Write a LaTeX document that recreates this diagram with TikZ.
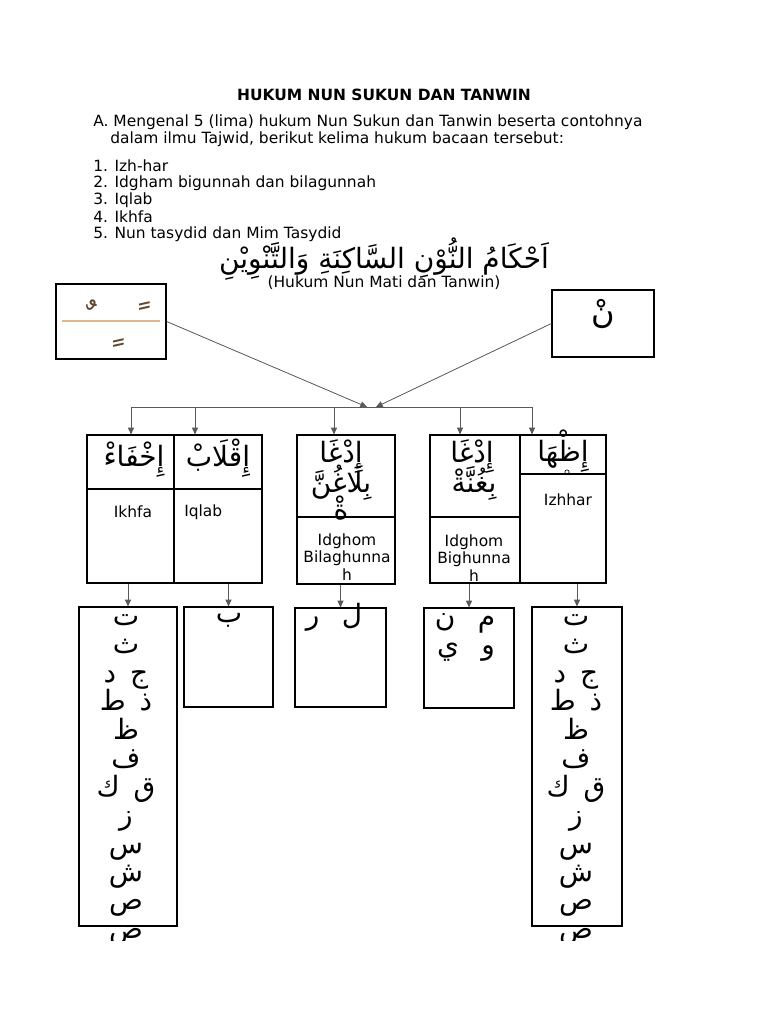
\documentclass[tikz,border=0pt]{standalone}
\usepackage{fontspec}
\setmainfont{DejaVu Sans}
\newfontfamily\arabicfont[Script=Arabic]{DejaVu Sans}
\TeXXeTstate=1
\usetikzlibrary{arrows.meta, fit}
\newcommand{\arab}[1]{{\arabicfont\beginR #1\endR}}
\definecolor{tanline}{RGB}{222,184,140}
\definecolor{tanmark}{RGB}{95,70,45}

\begin{document}
\begin{tikzpicture}[x=0.75pt, y=-0.75pt, inner sep=0pt, font=\fontsize{11.6}{13.1}\selectfont]
  \tikzstyle{box} = [draw, line width=0.9pt, inner sep=0pt]
  \tikzstyle{link} = [line width=0.6pt, black!65]
  \tikzstyle{arr} = [link, -{Triangle[length=5pt, width=4.5pt]}]
  \tikzstyle{head} = [anchor=base, font=\fontsize{21}{24}\selectfont]
  \tikzstyle{huruf} = [anchor=base, font=\fontsize{21}{24}\selectfont]
  \tikzstyle{tanda} = [text=tanmark, font=\fontsize{28}{30}\selectfont]
  \useasboundingbox[fill=white] (0,0) rectangle (768,1024);

  % judul dan keterangan
  \node[font=\fontsize{11.6}{13.1}\bfseries] (judul) at (384,95) {HUKUM NUN SUKUN DAN TANWIN};
  \node[anchor=west] (intro1) at (93,122) {A. Mengenal 5 (lima) hukum Nun Sukun dan Tanwin beserta contohnya};
  \node[anchor=west] (intro2) at (110,139) {dalam ilmu Tajwid, berikut kelima hukum bacaan tersebut:};
  \foreach \t [count=\i] in {Izh-har, Idgham bigunnah dan bilagunnah, Iqlab, Ikhfa, Nun tasydid dan Mim Tasydid}
    \node[anchor=west] (daftar\i) at (93,149+17*\i) {\i. \t};
  \node[font=\fontsize{21}{24}\selectfont] (arjudul) at (384,259) {\arab{اَحْكَامُ النُّوْنِ السَّاكِنَةِ وَالتَّنْوِيْنِ}};
  \node (subjudul) at (384,283) {(Hukum Nun Mati dan Tanwin)};

  % tanwin dan nun mati
  \node[box, fit={(56,284) (166,359)}] (tanwin) {};
  \node[box, fit={(552,290) (654,357)}] (nunmati) {};
  \draw[tanline, line width=0.8pt] (62,321) -- (160,321);
  \node[tanda] (dammatain) at (82,316) {\arab{ٌ}};
  \node[tanda] (fathatain) at (135,317) {\arab{ً}};
  \node[tanda] (kasratain) at (109,343) {\arab{ٍ}};
  \node[font=\fontsize{24}{26}\selectfont] (nun) at (603,314) {\arab{نْ}};

  % kotak hukum
  \node[box, fit={(87,435) (174,583)}] (ikhfa) {};
  \node[box, fit={(87,435) (174,489)}] (ikhfakepala) {};
  \node[box, fit={(174,435) (262,583)}] (iqlab) {};
  \node[box, fit={(174,435) (262,489)}] (iqlabkepala) {};
  \node[box, fit={(297,435) (395,584)}] (bilaghunnah) {};
  \node[box, fit={(297,435) (395,517)}] (bilakepala) {};
  \node[box, fit={(430,435) (520,583)}] (bighunnah) {};
  \node[box, fit={(430,435) (520,517)}] (bikepala) {};
  \node[box, fit={(520,435) (606,583)}] (izhhar) {};
  \node[box, fit={(520,435) (606,474)}] (izhharkepala) {};

  \node[head] (arikhfa) at (134,466) {\arab{إِخْفَاءْ}};
  \node[head] (ariqlab) at (218,466) {\arab{إِقْلَابْ}};
  \node (lbikhfa) at (133,512) {Ikhfa};
  \node[anchor=west] (lbiqlab) at (184,512) {Iqlab};
  \node[head] (arbila1) at (341,462) {\arab{إِدْغَا}};
  \node[head] (arbila2) at (341,492) {\arab{بِلَاغُنَّ}};
  \node[head] (arbila3) at (341,519) {\arab{ةْ}};
  \node[align=center] (lbbila) at (347,557) {Idghom\\Bilaghunna\\h};
  \node[head] (arbi1) at (472,462) {\arab{إِدْغَا}};
  \node[head] (arbi2) at (474,492) {\arab{بِغُنَّةْ}};
  \node[align=center] (lbbi) at (474,558) {Idghom\\Bighunna\\h};
  \node[head] (arizh) at (563,461) {\arab{إِظْهَا}};
  \draw[line width=0.5pt] (567,472) circle[radius=1.6pt];
  \node (lbizh) at (568,500) {Izhhar};

  % kotak huruf
  \node[box, fit={(79,607) (177,926)}] (hurufikhfa) {};
  \node[box, fit={(184,607) (273,707)}] (hurufiqlab) {};
  \node[box, fit={(295,608) (386,707)}] (hurufbila) {};
  \node[box, fit={(424,608) (514,708)}] (hurufbi) {};
  \node[box, fit={(532,607) (622,926)}] (hurufizhhar) {};

  \begin{scope}
    \clip (0,0) rectangle (768,940);
    \foreach \cx/\nm in {126/ikh, 576/izh}
      \foreach \h [count=\i] in {ت, ث, ج\hspace{0.5em}د, ذ\hspace{0.5em}ط, ظ, ف, ق\hspace{0.5em}ك, ز, س, ش, ص, ض}
        \node[huruf] (\nm\i) at (\cx,597+28.45*\i) {\arab{\h}};
  \end{scope}
  \node[huruf] (ba) at (229,622) {\arab{ب}};
  \node[huruf] (lamra) at (334,624) {\arab{ل\hspace{0.8em}ر}};
  \node[huruf] (mimnun) at (465,626) {\arab{م\hspace{0.8em}ن}};
  \node[huruf] (wawya) at (466,654) {\arab{و\hspace{0.8em}ي}};

  % panah
  \coordinate (b1) at (131,407);
  \coordinate (b2) at (195,407);
  \coordinate (b3) at (334,407);
  \coordinate (b4) at (460,407);
  \coordinate (b5) at (532,407);
  \coordinate (temu1) at (367,407);
  \coordinate (temu2) at (376,407);
  \draw[arr] (tanwin.east) -- (temu1);
  \draw[arr] (nunmati.west) -- (temu2);
  \draw[link] (b1) -- (b5);
  \foreach \b/\k in {b1/ikhfa, b2/iqlab, b3/bilaghunnah, b4/bighunnah, b5/izhhar}
    \draw[arr] (\b) -- (\b |- \k.north);
  \foreach \k/\h in {ikhfa/hurufikhfa, iqlab/hurufiqlab, bilaghunnah/hurufbila, bighunnah/hurufbi, izhhar/hurufizhhar}
    \draw[arr] (\k.south -| \h.north) -- (\h.north);
\end{tikzpicture}
\end{document}
